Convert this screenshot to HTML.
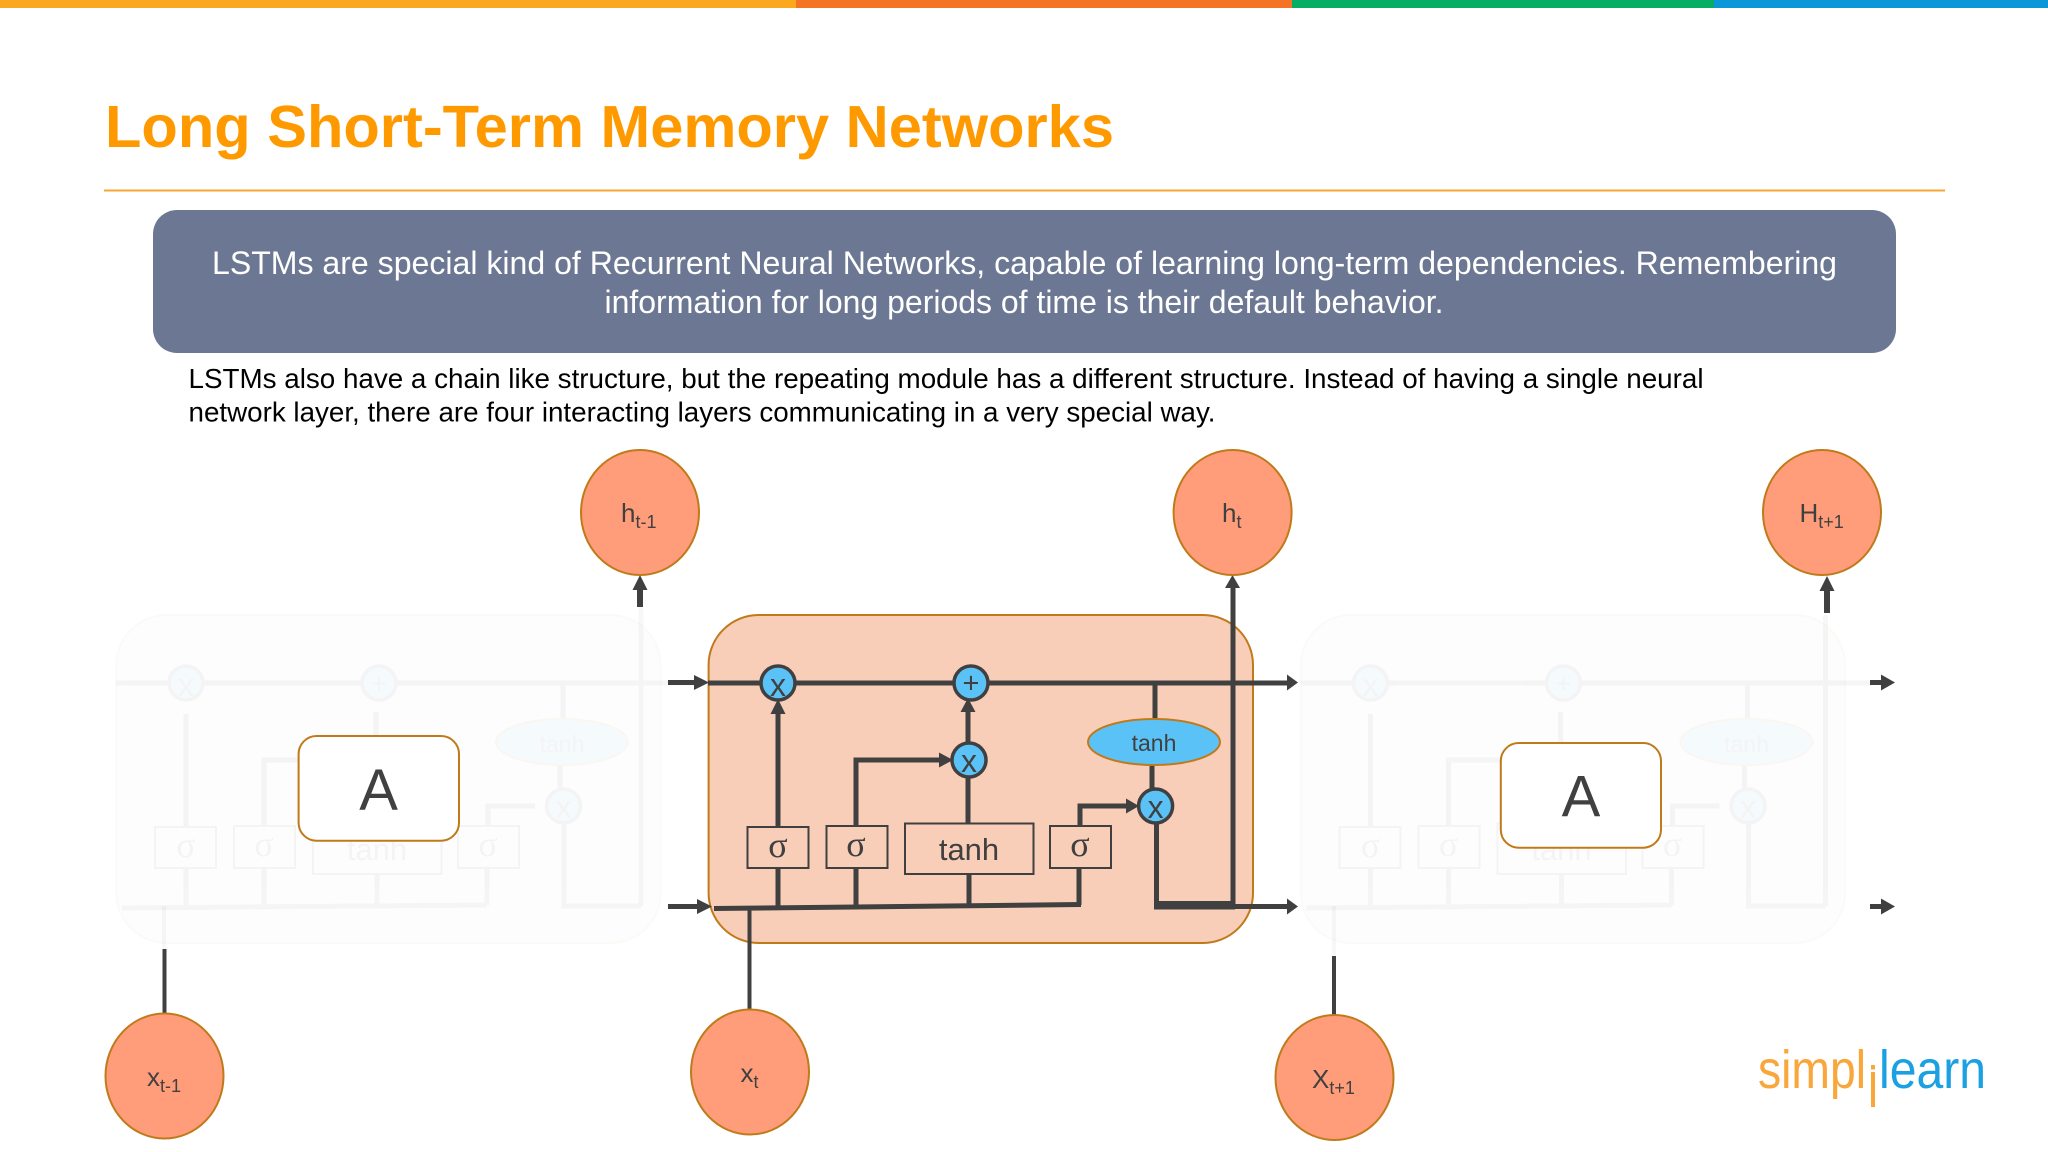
<!DOCTYPE html>
<html><head><meta charset="utf-8"><title>Long Short-Term Memory Networks</title>
<style>html,body{margin:0;padding:0;background:#fff}svg{display:block}text{font-family:"Liberation Sans",sans-serif}.g{font-family:"Liberation Serif",serif}</style></head>
<body>
<svg xmlns="http://www.w3.org/2000/svg" width="2048" height="1152" viewBox="0 0 2048 1152">
<rect width="2048" height="1152" fill="#fff"/>
<rect x="0" y="0" width="796" height="8" fill="#FBA81F"/>
<rect x="796" y="0" width="496" height="8" fill="#F47324"/>
<rect x="1292" y="0" width="422" height="8" fill="#05AE62"/>
<rect x="1714" y="0" width="334" height="8" fill="#0A96D8"/>
<text x="105" y="147" font-size="59" font-weight="bold" fill="#FF9900" textLength="1009" lengthAdjust="spacingAndGlyphs">Long Short-Term Memory Networks</text>
<rect x="104" y="189.5" width="1841" height="2" fill="#F7A636"/>
<rect x="153" y="210" width="1743" height="143" rx="24" fill="#6C7893"/>
<text x="212" y="274" font-size="32.5" fill="#fff" textLength="1625" lengthAdjust="spacingAndGlyphs">LSTMs are special kind of Recurrent Neural Networks, capable of learning long-term dependencies. Remembering</text>
<text x="604.5" y="313" font-size="32.5" fill="#fff" textLength="839" lengthAdjust="spacingAndGlyphs">information for long periods of time is their default behavior.</text>
<text x="188.5" y="388" font-size="28" fill="#000" textLength="1515" lengthAdjust="spacingAndGlyphs">LSTMs also have a chain like structure, but the repeating module has a different structure. Instead of having a single neural</text>
<text x="188.5" y="421.5" font-size="28" fill="#000" textLength="1027" lengthAdjust="spacingAndGlyphs">network layer, there are four interacting layers communicating in a very special way.</text>

<!-- left ghost -->
<rect x="116.5" y="615" width="544" height="328" rx="50" fill="#FDFDFD" stroke="#FAFAF6" stroke-width="2"/>
<g transform="translate(-592,0)" opacity="0.045">
<g stroke="#404040" stroke-width="5" fill="none">
<path d="M708 683H1297M778 827V714M856 826V760H940M968 823V712M1080 826V806H1127M1155 682V719M1152 765V790M1156 823V906H1233M1233 906V607M778 868V906M856 868V906M969 874V906M1079 868V905M714 908L1079 905"/>
</g>
<circle cx="778" cy="683" r="17" fill="#5BC2F7" stroke="#404040" stroke-width="3.5"/>
<circle cx="971" cy="683" r="17" fill="#5BC2F7" stroke="#404040" stroke-width="3.5"/>
<circle cx="969" cy="760" r="17" fill="#5BC2F7" stroke="#404040" stroke-width="3.5"/>
<circle cx="1155.6" cy="806" r="17" fill="#5BC2F7" stroke="#404040" stroke-width="3.5"/>
<ellipse cx="1154" cy="742" rx="66" ry="23" fill="#5BC2F7" stroke="#C07A1A" stroke-width="2"/>
<g fill="none" stroke="#404040" stroke-width="2"><rect x="747" y="827" width="61" height="41"/><rect x="826" y="826" width="61" height="42"/><rect x="905" y="823" width="128.5" height="51"/><rect x="1050" y="826" width="61" height="42"/></g>
<g fill="#404040" text-anchor="middle"><text x="778" y="857" class="g" font-size="36">σ</text><text x="856" y="856" class="g" font-size="36">σ</text><text x="1080" y="856" class="g" font-size="36">σ</text><text x="969" y="860" font-size="31">tanh</text><text x="1154" y="752" font-size="23">tanh</text><text x="778" y="696" font-size="32">x</text><text x="1155.6" y="818" font-size="32">x</text><text x="971" y="692.5" font-size="27">+</text></g>
</g>
<rect x="162" y="906" width="4" height="43" fill="#404040" opacity="0.045"/>

<!-- right ghost -->
<rect x="1301" y="615" width="544" height="328" rx="50" fill="#FDFDFD" stroke="#FAFAF6" stroke-width="2"/>
<g transform="translate(592.5,0)" opacity="0.045">
<g stroke="#404040" stroke-width="5" fill="none">
<path d="M708 683H1280M778 827V714M856 826V760H940M968 823V712M1080 826V806H1127M1155 682V719M1152 765V790M1156 823V906H1233M1233 906V615M778 868V906M856 868V906M969 874V906M1079 868V905M714 908L1079 905"/>
</g>
<circle cx="778" cy="683" r="17" fill="#5BC2F7" stroke="#404040" stroke-width="3.5"/>
<circle cx="971" cy="683" r="17" fill="#5BC2F7" stroke="#404040" stroke-width="3.5"/>
<circle cx="969" cy="760" r="17" fill="#5BC2F7" stroke="#404040" stroke-width="3.5"/>
<circle cx="1155.6" cy="806" r="17" fill="#5BC2F7" stroke="#404040" stroke-width="3.5"/>
<ellipse cx="1154" cy="742" rx="66" ry="23" fill="#5BC2F7" stroke="#C07A1A" stroke-width="2"/>
<g fill="none" stroke="#404040" stroke-width="2"><rect x="747" y="827" width="61" height="41"/><rect x="826" y="826" width="61" height="42"/><rect x="905" y="823" width="128.5" height="51"/><rect x="1050" y="826" width="61" height="42"/></g>
<g fill="#404040" text-anchor="middle"><text x="778" y="857" class="g" font-size="36">σ</text><text x="856" y="856" class="g" font-size="36">σ</text><text x="1080" y="856" class="g" font-size="36">σ</text><text x="969" y="860" font-size="31">tanh</text><text x="1154" y="752" font-size="23">tanh</text><text x="778" y="696" font-size="32">x</text><text x="1155.6" y="818" font-size="32">x</text><text x="971" y="692.5" font-size="27">+</text></g>
</g>
<rect x="1332" y="906" width="4" height="50" fill="#404040" opacity="0.045"/>

<!-- central -->
<rect x="708.6" y="615" width="544.4" height="328" rx="50" fill="#F9CEB9" stroke="#C07A1A" stroke-width="2"/>
<g stroke="#404040" stroke-width="5" fill="none">
<path d="M668 682.5H700"/><path d="M708 683H1289"/>
<path d="M668 906.5H698"/>
<path d="M778 827V714M856 826V760H940M968 823V712M1080 826V806H1127"/>
<path d="M1155 682V719M1152 765V790"/>
<path d="M778 868V906M856 868V906M969 874V906M1079 868V905"/>
<path d="M714 908.5L1081 904.5"/>
<path d="M1156.5 823V906"/><path d="M1233 906V586"/>
<path d="M1233 906.5H1290"/>
<path d="M1870 682.5H1882M1870 906.5H1882"/>
</g>
<path d="M640 607V589M1827 613V590" stroke="#404040" stroke-width="6" fill="none"/>
<rect x="1154" y="901" width="81" height="8.5" fill="#404040"/>
<rect x="747.5" y="908" width="4" height="102" fill="#404040"/>
<rect x="162.5" y="949" width="4" height="64" fill="#404040"/>
<rect x="1332" y="956" width="4" height="59" fill="#404040"/>
<g fill="#404040">
<polygon points="694,675 709,682.5 694,690"/>
<polygon points="697,899 712,906.5 697,914"/>
<polygon points="1287,674.5 1298,682.5 1287,690.5"/>
<polygon points="1287,898.5 1298,906.5 1287,914.5"/>
<polygon points="1881,674.5 1895,682.5 1881,690.5"/>
<polygon points="1881,898.5 1895,906.5 1881,914.5"/>
<polygon points="770.5,714 778,699 785.5,714"/>
<polygon points="960.5,712 968,698 975.5,712"/>
<polygon points="939,752.5 953,760 939,767.5"/>
<polygon points="1126,798.5 1139,806 1126,813.5"/>
<polygon points="1225,588 1232.5,575 1240,588"/>
<polygon points="632.5,590 640,575 647.5,590"/>
<polygon points="1819.5,591 1827,576 1834.5,591"/>
</g>
<circle cx="778" cy="683" r="17" fill="#5BC2F7" stroke="#404040" stroke-width="3.5"/>
<circle cx="971" cy="683" r="17" fill="#5BC2F7" stroke="#404040" stroke-width="3.5"/>
<circle cx="969" cy="760" r="17" fill="#5BC2F7" stroke="#404040" stroke-width="3.5"/>
<circle cx="1155.6" cy="806" r="17" fill="#5BC2F7" stroke="#404040" stroke-width="3.5"/>
<ellipse cx="1154" cy="742" rx="66" ry="23" fill="#5BC2F7" stroke="#C07A1A" stroke-width="2"/>
<g fill="none" stroke="#404040" stroke-width="2"><rect x="747.5" y="827" width="61" height="41"/><rect x="826.5" y="826" width="61" height="42"/><rect x="905" y="823.5" width="128.5" height="50.5"/><rect x="1050" y="826" width="61" height="42"/></g>
<g fill="#404040" text-anchor="middle">
<text x="778" y="857" class="g" font-size="36">σ</text>
<text x="856" y="856" class="g" font-size="36">σ</text>
<text x="1080" y="856" class="g" font-size="36">σ</text>
<text x="969" y="860" font-size="31">tanh</text>
<text x="1154" y="751" font-size="23">tanh</text>
<text x="778" y="696" font-size="32">x</text>
<text x="969" y="772" font-size="32">x</text>
<text x="1155.6" y="818" font-size="32">x</text>
<text x="971" y="692.5" font-size="29">+</text>
</g>

<!-- A boxes -->
<rect x="298.6" y="736" width="160.4" height="104.7" rx="18" fill="#fff" stroke="#C07A1A" stroke-width="2"/>
<text x="378.6" y="810" font-size="58" fill="#404040" text-anchor="middle">A</text>
<rect x="1500.8" y="743" width="160.2" height="104.7" rx="18" fill="#fff" stroke="#C07A1A" stroke-width="2"/>
<text x="1581" y="816.7" font-size="58" fill="#404040" text-anchor="middle">A</text>

<!-- outer nodes -->
<g fill="#FF9C7A" stroke="#C07A1A" stroke-width="2">
<ellipse cx="640" cy="512.5" rx="59" ry="62.5"/>
<ellipse cx="1232.6" cy="512.5" rx="59" ry="62.5"/>
<ellipse cx="1822" cy="512.5" rx="59" ry="62.5"/>
<ellipse cx="164.5" cy="1076" rx="59" ry="62.5"/>
<ellipse cx="750" cy="1072" rx="59" ry="62.5"/>
<ellipse cx="1334.5" cy="1077.5" rx="59" ry="62.5"/>
</g>
<g fill="#404040" font-size="26">
<text x="621" y="522">h<tspan dy="6" font-size="18">t-1</tspan></text>
<text x="1222" y="522">h<tspan dy="6" font-size="18">t</tspan></text>
<text x="1799.5" y="522">H<tspan dy="6" font-size="18">t+1</tspan></text>
<text x="147" y="1086">x<tspan dy="6" font-size="18">t-1</tspan></text>
<text x="740.5" y="1082">x<tspan dy="6" font-size="18">t</tspan></text>
<text x="1312" y="1088">X<tspan dy="6" font-size="18">t+1</tspan></text>
</g>

<!-- logo -->
<text x="1758" y="1088" font-size="54" fill="#F9A63A" textLength="108" lengthAdjust="spacingAndGlyphs">simpl</text>
<rect x="1871" y="1065" width="4" height="4.5" fill="#F9A63A"/>
<rect x="1871" y="1072" width="4" height="35" fill="#F9A63A"/>
<text x="1879" y="1088" font-size="54" fill="#1BA1E2" textLength="107" lengthAdjust="spacingAndGlyphs">learn</text>
</svg>
</body></html>
